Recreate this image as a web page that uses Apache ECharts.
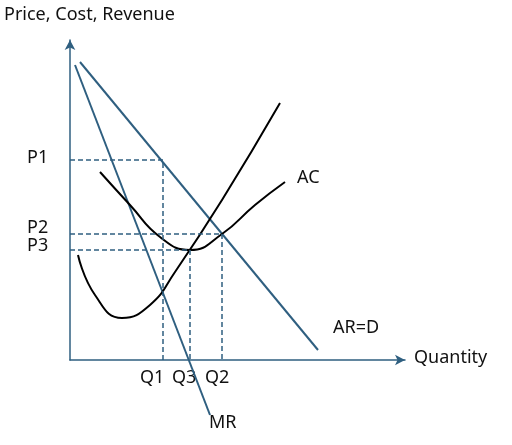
<!DOCTYPE html>
<html><head><meta charset="utf-8">
<script src="https://cdn.jsdelivr.net/npm/echarts@6/dist/echarts.min.js"></script>
<style>body{margin:0}#c{width:512px;height:445px}</style></head>
<body><div id="c"></div>
<script>
// coordinates: x = quantity units, y = price units
const demand = [[10,298],[248,10]];
const mr = [[5,295],[140,-55]];
const mc = [[8,105],[25,65],[52,42],[80,55],[105,88],[152,160],[210,257]];
const ac = [[30,188],[60,155],[90,123],[120,110],[152,126],[185,155],[215,178]];
const P = {P1:200, P2:126, P3:110};
const Q = {Q1:93, Q3:120, Q2:152};
const blue = '#2f5f80';
const chart = echarts.init(document.getElementById('c'));
const dash = (pts)=>({type:'line',data:pts,symbol:'none',silent:true,clip:false,
  lineStyle:{color:blue,width:1.5,type:[5,3]}});
chart.setOption({
  animation:false,
  grid:{left:70,right:107,top:40,bottom:85},
  xAxis:{type:'value',min:0,max:335,splitLine:{show:false},axisTick:{show:false},axisLabel:{show:false},
    axisLine:{symbol:['none','arrow'],symbolSize:[8,10],lineStyle:{color:blue,width:1.5}}},
  yAxis:{type:'value',min:0,max:320,splitLine:{show:false},axisTick:{show:false},axisLabel:{show:false},
    axisLine:{show:true,symbol:['none','arrow'],symbolSize:[8,10],lineStyle:{color:blue,width:1.5}}},
  series:[
    {type:'line',data:demand,symbol:'none',clip:false,lineStyle:{color:blue,width:2}},
    {type:'line',data:mr,symbol:'none',clip:false,lineStyle:{color:blue,width:2}},
    {type:'line',data:mc,symbol:'none',smooth:0.5,clip:false,lineStyle:{color:'#000',width:2}},
    {type:'line',data:ac,symbol:'none',smooth:0.5,clip:false,lineStyle:{color:'#000',width:2}},
    dash([[0,P.P1],[Q.Q1,P.P1],[Q.Q1,0]]),
    dash([[0,P.P2],[Q.Q2,P.P2],[Q.Q2,0]]),
    dash([[0,P.P3],[Q.Q3,P.P3],[Q.Q3,0]])
  ],
  graphic:[
    ['Price, Cost, Revenue',4,6],['Quantity',414,349],['AC',297,169],['AR=D',333,319],['MR',209,414],
    ['P1',27,149],['P2',27,219],['P3',27,237],['Q1',140,369],['Q3',172,369],['Q2',205,369]
  ].map(([t,x,y])=>({type:'text',left:x,top:y,style:{text:t,fontSize:18,fill:'#111',fontFamily:'Noto Sans'}}))
});
</script></body></html>
